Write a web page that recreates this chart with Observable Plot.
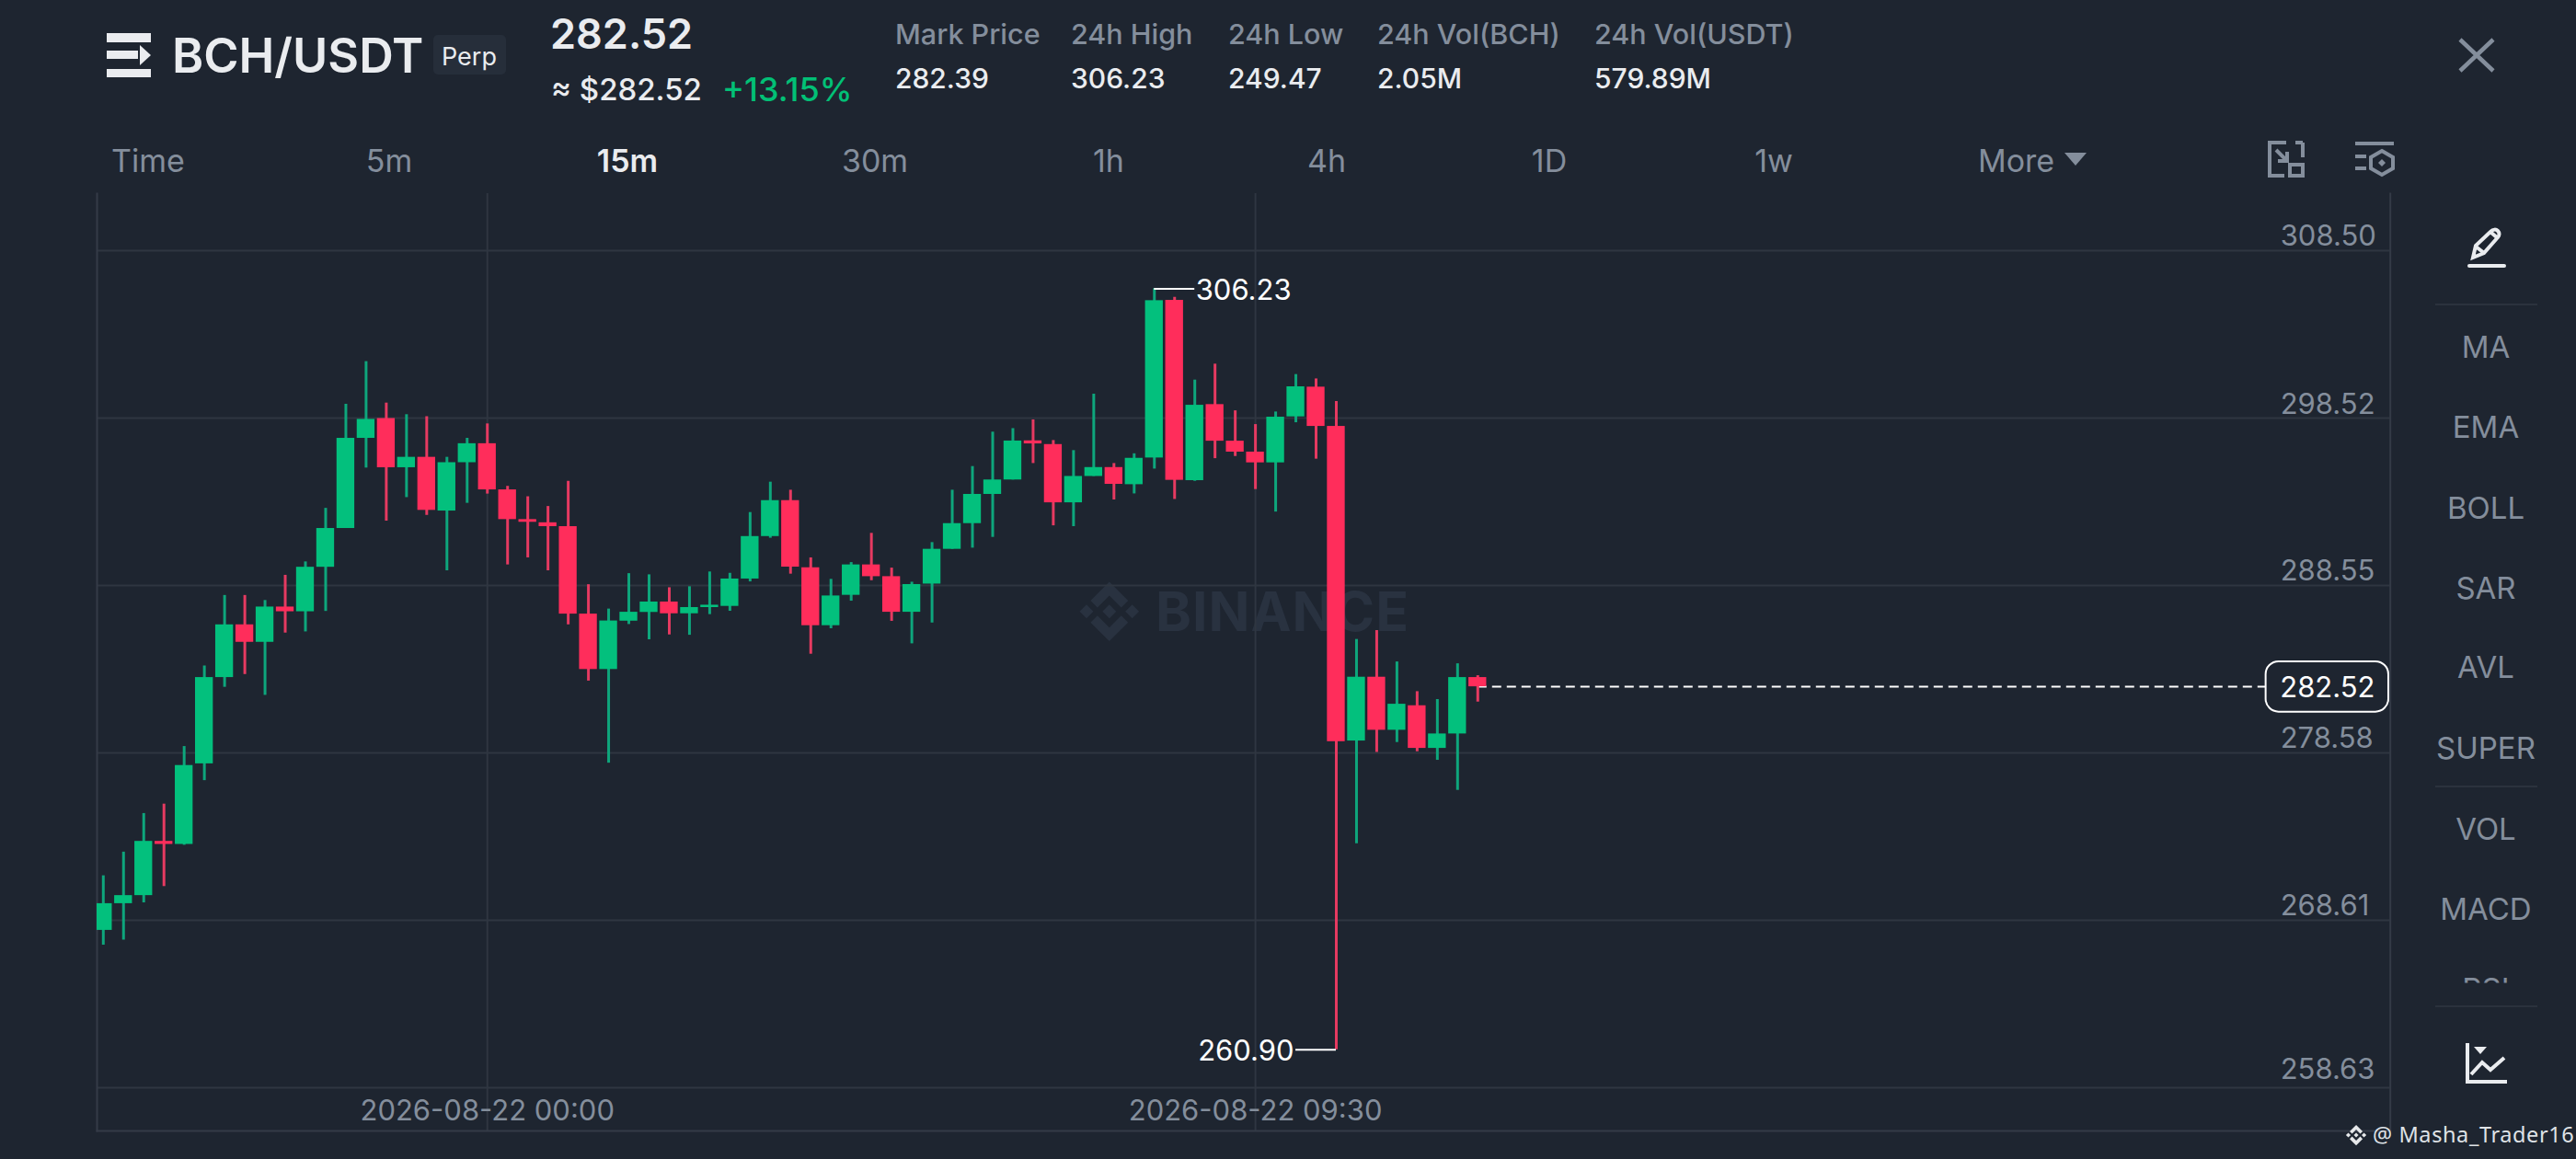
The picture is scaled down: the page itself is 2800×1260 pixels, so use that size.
<!DOCTYPE html>
<html>
<head>
<meta charset="utf-8">
<script src="https://cdn.jsdelivr.net/npm/d3@7"></script>
<script src="https://cdn.jsdelivr.net/npm/@observablehq/plot@0.6"></script>
<style>
  html, body { margin:0; padding:0; background:#1e2530; }
  #page { position:relative; width:2800px; height:1260px; overflow:hidden; background:#1e2530; font-family:Inter, "Noto Sans", sans-serif; color:#eaecef; }
  .t { position:absolute; white-space:nowrap; line-height:1; transform:translateY(-50%); }
  .c { transform:translate(-50%,-50%); }
  .muted { color:#848e9c; }
  #chart { position:absolute; left:0; top:210px; }
  .div { position:absolute; left:2647px; width:111px; height:2px; background:#2b323d; }
  svg.icon { position:absolute; overflow:visible; }
</style>
</head>
<body>
<div id="page"></div>
<script>
// ---------- data ----------
const symbol = "BCH/USDT", contract = "Perp";
const lastPrice = "282.52", fiatPrice = "≈ $282.52", changePct = "+13.15%";
const statLabels = ["Mark Price", "24h High", "24h Low", "24h Vol(BCH)", "24h Vol(USDT)"];
const statValues = ["282.39", "306.23", "249.47", "2.05M", "579.89M"];
const intervals = ["Time", "5m", "15m", "30m", "1h", "4h", "1D", "1w"];
const activeInterval = "15m";
const moreLabel = "More";
const indicators = ["MA", "EMA", "BOLL", "SAR", "AVL", "SUPER", "VOL", "MACD", "RSI"];
const credit = "@ Masha_Trader16";
const brand = "BINANCE";

const firstCandle = Date.UTC(2026, 7, 21, 19, 15);
const stepMs = 15 * 60 * 1000;

const opens = [268.01,269.60,270.08,273.31,273.13,277.93,283.07,286.21,285.17,287.27,286.99,289.64,291.95,297.32,298.50,295.57,296.19,292.99,295.87,297.00,294.25,292.48,292.29,292.06,286.85,283.55,
  286.43,286.95,287.57,286.87,287.24,287.31,288.94,291.47,293.61,289.61,286.16,287.97,289.78,289.08,286.96,288.64,290.71,292.24,293.98,294.84,297.17,
  296.95,293.48,295.05,295.58,294.56,296.15,305.54,294.80,299.33,297.15,296.50,295.86,298.60,300.37,298.03,279.29,283.09,279.93,281.39,278.85,279.71,283.07];
const highs = [271.26,272.67,274.97,275.53,278.96,283.76,287.96,287.96,287.66,289.16,289.96,293.15,299.35,301.89,299.42,298.73,298.61,296.19,297.32,298.18,294.46,293.84,293.26,294.76,288.60,287.15,
  289.26,289.19,288.42,288.48,289.36,289.28,292.90,294.71,294.23,290.20,288.92,289.92,291.66,289.59,288.75,291.11,294.23,295.64,297.69,297.90,298.42,
  297.19,296.59,299.95,295.82,296.40,306.23,305.72,300.79,301.74,298.96,298.14,298.89,301.12,300.86,299.51,285.34,285.87,284.00,282.23,281.76,283.89,283.18];
const lows = [267.13,267.43,269.65,270.62,273.08,276.93,282.49,283.25,282.01,285.72,285.79,287.01,291.95,295.55,292.39,293.79,292.73,289.43,293.45,294.00,289.78,290.20,289.43,286.21,282.86,277.97,
  286.23,285.32,285.61,285.59,286.82,287.02,288.77,291.37,289.23,284.46,285.98,287.62,288.84,286.42,285.08,286.32,290.71,290.78,291.42,294.84,295.82,
  292.11,292.06,295.05,293.65,294.01,295.49,293.68,294.76,296.11,296.24,294.27,292.93,298.25,296.08,260.90,273.17,278.61,279.20,278.65,278.14,276.35,281.61];
const closes = [269.60,270.08,273.31,273.13,277.83,283.07,286.21,285.17,287.27,286.99,289.64,291.95,297.32,298.45,295.57,296.19,293.03,295.87,297.00,294.25,292.48,292.32,292.06,286.85,283.55,286.44,
  286.96,287.57,286.87,287.24,287.38,288.94,291.47,293.61,289.65,286.16,287.93,289.78,289.08,286.96,288.61,290.71,292.24,293.98,294.84,297.16,296.99,
  293.48,295.05,295.58,294.58,296.13,305.52,294.82,299.29,297.15,296.50,295.86,298.58,300.39,298.03,279.25,283.09,279.93,281.48,278.85,279.71,283.07,282.52];

const priceTicks = [308.50, 298.52, 288.55, 278.58, 268.61, 258.63];
const timeTicks = [Date.UTC(2026, 7, 22, 0, 0), Date.UTC(2026, 7, 22, 9, 30)];
const highValue = 306.23, lowValue = 260.90, lastValue = 282.52;

// ---------- style ----------
const bg = "#1e2530", gridColor = "#2f3641", frameColor = "#343b47";
const upBody = "#03c07d", downBody = "#ff2d5b", upWick = "#0ea67c", downWick = "#e63a61";
const muted = "#848e9c", bright = "#eaecef";
const chartFont = "Inter, 'Noto Sans', sans-serif";

// ---------- header and side panel (HTML) ----------
const page = document.getElementById("page");
function put(text, x, y, size, opts = {}) {
  const e = document.createElement("div");
  e.className = "t" + (opts.center ? " c" : "");
  e.textContent = text;
  e.style.left = x + "px"; e.style.top = y + "px"; e.style.fontSize = size + "px";
  e.style.fontWeight = opts.weight || 400;
  e.style.color = opts.color || bright;
  if (opts.family) e.style.fontFamily = opts.family;
  if (opts.spacing) e.style.letterSpacing = opts.spacing;
  page.appendChild(e);
  return e;
}
function icon(x, y, w, h, inner) {
  page.insertAdjacentHTML("beforeend",
    `<svg class="icon" style="left:${x}px;top:${y}px" width="${w}" height="${h}" viewBox="0 0 ${w} ${h}">${inner}</svg>`);
}
const binanceMark = (s, col) => `<g fill="${col}" transform="scale(${s})">
  <path d="M8.2 10.7 12 6.9l3.8 3.8 2.2-2.2L12 2.5 6 8.5z"/>
  <path d="M2.5 12l2.2-2.2L6.9 12l-2.2 2.2z"/>
  <path d="M8.2 13.3 12 17.1l3.8-3.8 2.2 2.2-6 6-6-6z"/>
  <path d="M17.1 12l2.2-2.2 2.2 2.2-2.2 2.2z"/>
  <path d="M14.2 12 12 9.8 9.8 12l2.2 2.2z"/></g>`;

// watermark sits underneath the chart
icon(1165, 624, 80, 80, binanceMark(3.4, "#293240"));
put(brand, 1256, 664, 59, {weight:700, color:"#293240", spacing:"1px"});

// menu glyph
icon(116, 36, 48, 48, `<g fill="${bright}"><rect width="48" height="10"/><rect y="39" width="48" height="9"/><rect y="19" width="34" height="9"/><path d="M36 13l12 11-12 11z"/></g>`);
put(symbol, 187, 61, 52, {weight:600});
page.insertAdjacentHTML("beforeend", `<div style="position:absolute;left:471px;top:38px;width:79px;height:43px;border-radius:5px;background:#262e3a"></div>`);
put(contract, 510, 61, 27, {center:true});
put(lastPrice, 598, 36, 45, {weight:600});
put(fiatPrice, 599, 97, 33, {weight:500});
put(changePct, 785, 97, 36, {weight:500, color:"#02c076"});

const statLeft = [973, 1164, 1335, 1497, 1733];
statLabels.forEach((s, i) => put(s, statLeft[i], 37, 30.5, {weight:500, color:muted}));
statValues.forEach((s, i) => put(s, statLeft[i], 85, 30, {weight:500}));

const intervalCenter = [161, 423, 682, 951, 1205, 1442, 1684, 1928];
intervals.forEach((s, i) => put(s, intervalCenter[i], 175, 34, {center:true, weight: s === activeInterval ? 600 : 400, color: s === activeInterval ? bright : muted}));
put(moreLabel, 2150, 175, 34, {color:muted});
icon(2244, 166, 24, 14, `<path d="M0 0h24L12 14z" fill="${muted}"/>`);

// toolbar icons
icon(2465, 153, 42, 42, `<g fill="none" stroke="${muted}" stroke-width="4"><path d="M20 2H2v36h16"/><path d="M38 2h-8M38 2v16"/><rect x="24" y="26" width="14" height="12"/><path d="M9 10l12 12M21 12v10H11"/></g>`);
icon(2560, 153, 44, 42, `<g fill="none" stroke="${muted}" stroke-width="4"><path d="M0 3h42M0 17h12M0 30h12"/><path d="M29 11l12 7v12l-12 7-12-7V18z"/></g><path d="M29 20l4 4-4 4-4-4z" fill="${muted}"/>`);
icon(2672, 41, 40, 38, `<path d="M2 2l36 34M38 2L2 36" stroke="${muted}" stroke-width="4.5" fill="none"/>`);

// drawing tool + side menu
icon(2682, 248, 44, 44, `<g fill="none" stroke="${bright}" stroke-width="4"><path d="M6 32l3-13L25 4c3-3 6-3 8-1s2 5 0 7L18 27z"/><path d="M9 20l9 7M26 5l7 6"/></g><rect x="0" y="39" width="42" height="4" rx="2" fill="${bright}"/>`);
page.insertAdjacentHTML("beforeend", `<div class="div" style="top:330px"></div><div class="div" style="top:854px"></div><div class="div" style="top:1093px"></div>`);
const indicatorY = [377, 464, 552, 639, 725, 813, 901, 988, 1075];
indicators.forEach((s, i) => {
  const e = put(s, 2702, indicatorY[i], 33, {center:true, color:muted});
  if (s === "RSI") e.style.clipPath = "inset(0 0 70% 0)";
});
icon(2680, 1134, 46, 46, `<g fill="none" stroke="${bright}" stroke-width="4"><path d="M2 0v42h43"/><path d="M6 34l12-13 9 8 15-13"/></g><path d="M9 4h14l-7 8z" fill="${bright}"/>`);

// ---------- chart ----------
const candles = opens.map((o, i) => ({
  t: new Date(firstCandle + i * stepMs), open: o, high: highs[i], low: lows[i], close: closes[i], up: closes[i] >= o
}));
const at = (i) => new Date(firstCandle + i * stepMs);
const halfBody = stepMs * 0.44;
const fmtTime = d3.utcFormat("%Y-%m-%d %H:%M");
const iLast = opens.length - 1;
const iHigh = highs.indexOf(highValue), iLow = lows.indexOf(lowValue);
const priceAxis = {anchor: "right", tickSize: 0, tickPadding: 0, textAnchor: "start", dx: -119.5,
  tickFormat: d => d.toFixed(2), fill: muted, fontSize: 31, fontVariant: "normal", label: null};

const chart = Plot.plot({
  width: 2800, height: 1050,
  marginTop: 0, marginBottom: 31, marginLeft: 105, marginRight: 202.3,
  style: {background: "transparent", fontFamily: chartFont, overflow: "visible"},
  x: {type: "utc", domain: [at(-0.3095), at(113.148)], axis: null},
  y: {domain: [256.06, 311.897], axis: null},
  marks: [
    Plot.gridY(priceTicks, {stroke: gridColor, strokeOpacity: 1, strokeWidth: 2}),
    Plot.gridX(timeTicks.map(d => new Date(d)), {stroke: gridColor, strokeOpacity: 1, strokeWidth: 2}),
    Plot.frame({anchor: "left", stroke: frameColor, strokeWidth: 2}),
    Plot.frame({anchor: "right", stroke: frameColor, strokeWidth: 2}),
    Plot.frame({anchor: "bottom", stroke: frameColor, strokeWidth: 2}),
    Plot.axisY(priceTicks.slice(0, 5), {...priceAxis, dy: -15}),
    Plot.axisY(priceTicks.slice(5), {...priceAxis, dy: -20}),
    Plot.axisX(timeTicks.map(d => new Date(d)), {anchor: "bottom", tickSize: 0, tickPadding: 0, dy: -34,
      tickFormat: fmtTime, fill: muted, fontSize: 31, fontVariant: "normal", label: null}),
    // last-price line and tag
    Plot.ruleY([lastValue], {x1: at(iLast), x2: at(107), stroke: "#ffffff", strokeWidth: 2, strokeDasharray: "10,6"}),
    Plot.rect([{}], {x1: at(107), x2: at(113.07), y1: 281.01, y2: 284.01, rx: 14, fill: bg, stroke: "#ffffff", strokeWidth: 2}),
    Plot.text([lastValue], {x: at(113.07), y: d => d, text: d => d.toFixed(2), textAnchor: "end", dx: -15, dy: 1, fill: "#ffffff", fontSize: 31}),
    // candles
    Plot.ruleX(candles, {x: "t", y1: "low", y2: "high", stroke: d => d.up ? upWick : downWick, strokeWidth: 3, clip: true}),
    Plot.rect(candles, {
      x1: d => new Date(+d.t - halfBody), x2: d => new Date(+d.t + halfBody),
      y1: "open", y2: "close", fill: d => d.up ? upBody : downBody, clip: true
    }),
    // high / low call-outs
    Plot.ruleY([highValue], {x1: at(iHigh), x2: at(iHigh + 2), stroke: "#ffffff", strokeWidth: 2}),
    Plot.text([highValue], {x: at(iHigh + 2), y: d => d, text: d => d.toFixed(2), textAnchor: "start", dx: 1, dy: 2, fill: "#ffffff", fontSize: 31}),
    Plot.ruleY([lowValue], {x1: at(iLow - 2), x2: at(iLow), stroke: "#ffffff", strokeWidth: 2}),
    Plot.text([lowValue], {x: at(iLow - 2), y: d => d, text: d => d.toFixed(2), textAnchor: "end", dx: -2, dy: 2, fill: "#ffffff", fontSize: 31})
  ]
});
chart.id = "chart";
page.appendChild(chart);

// credit line over the chart frame
icon(2547, 1220, 28, 28, binanceMark(1.17, "#e6e8ea"));
put(credit, 2579, 1234, 23.5, {family:"'Noto Sans', sans-serif", color:"#dfe2e6", spacing:"0.6px"});
</script>
</body>
</html>
